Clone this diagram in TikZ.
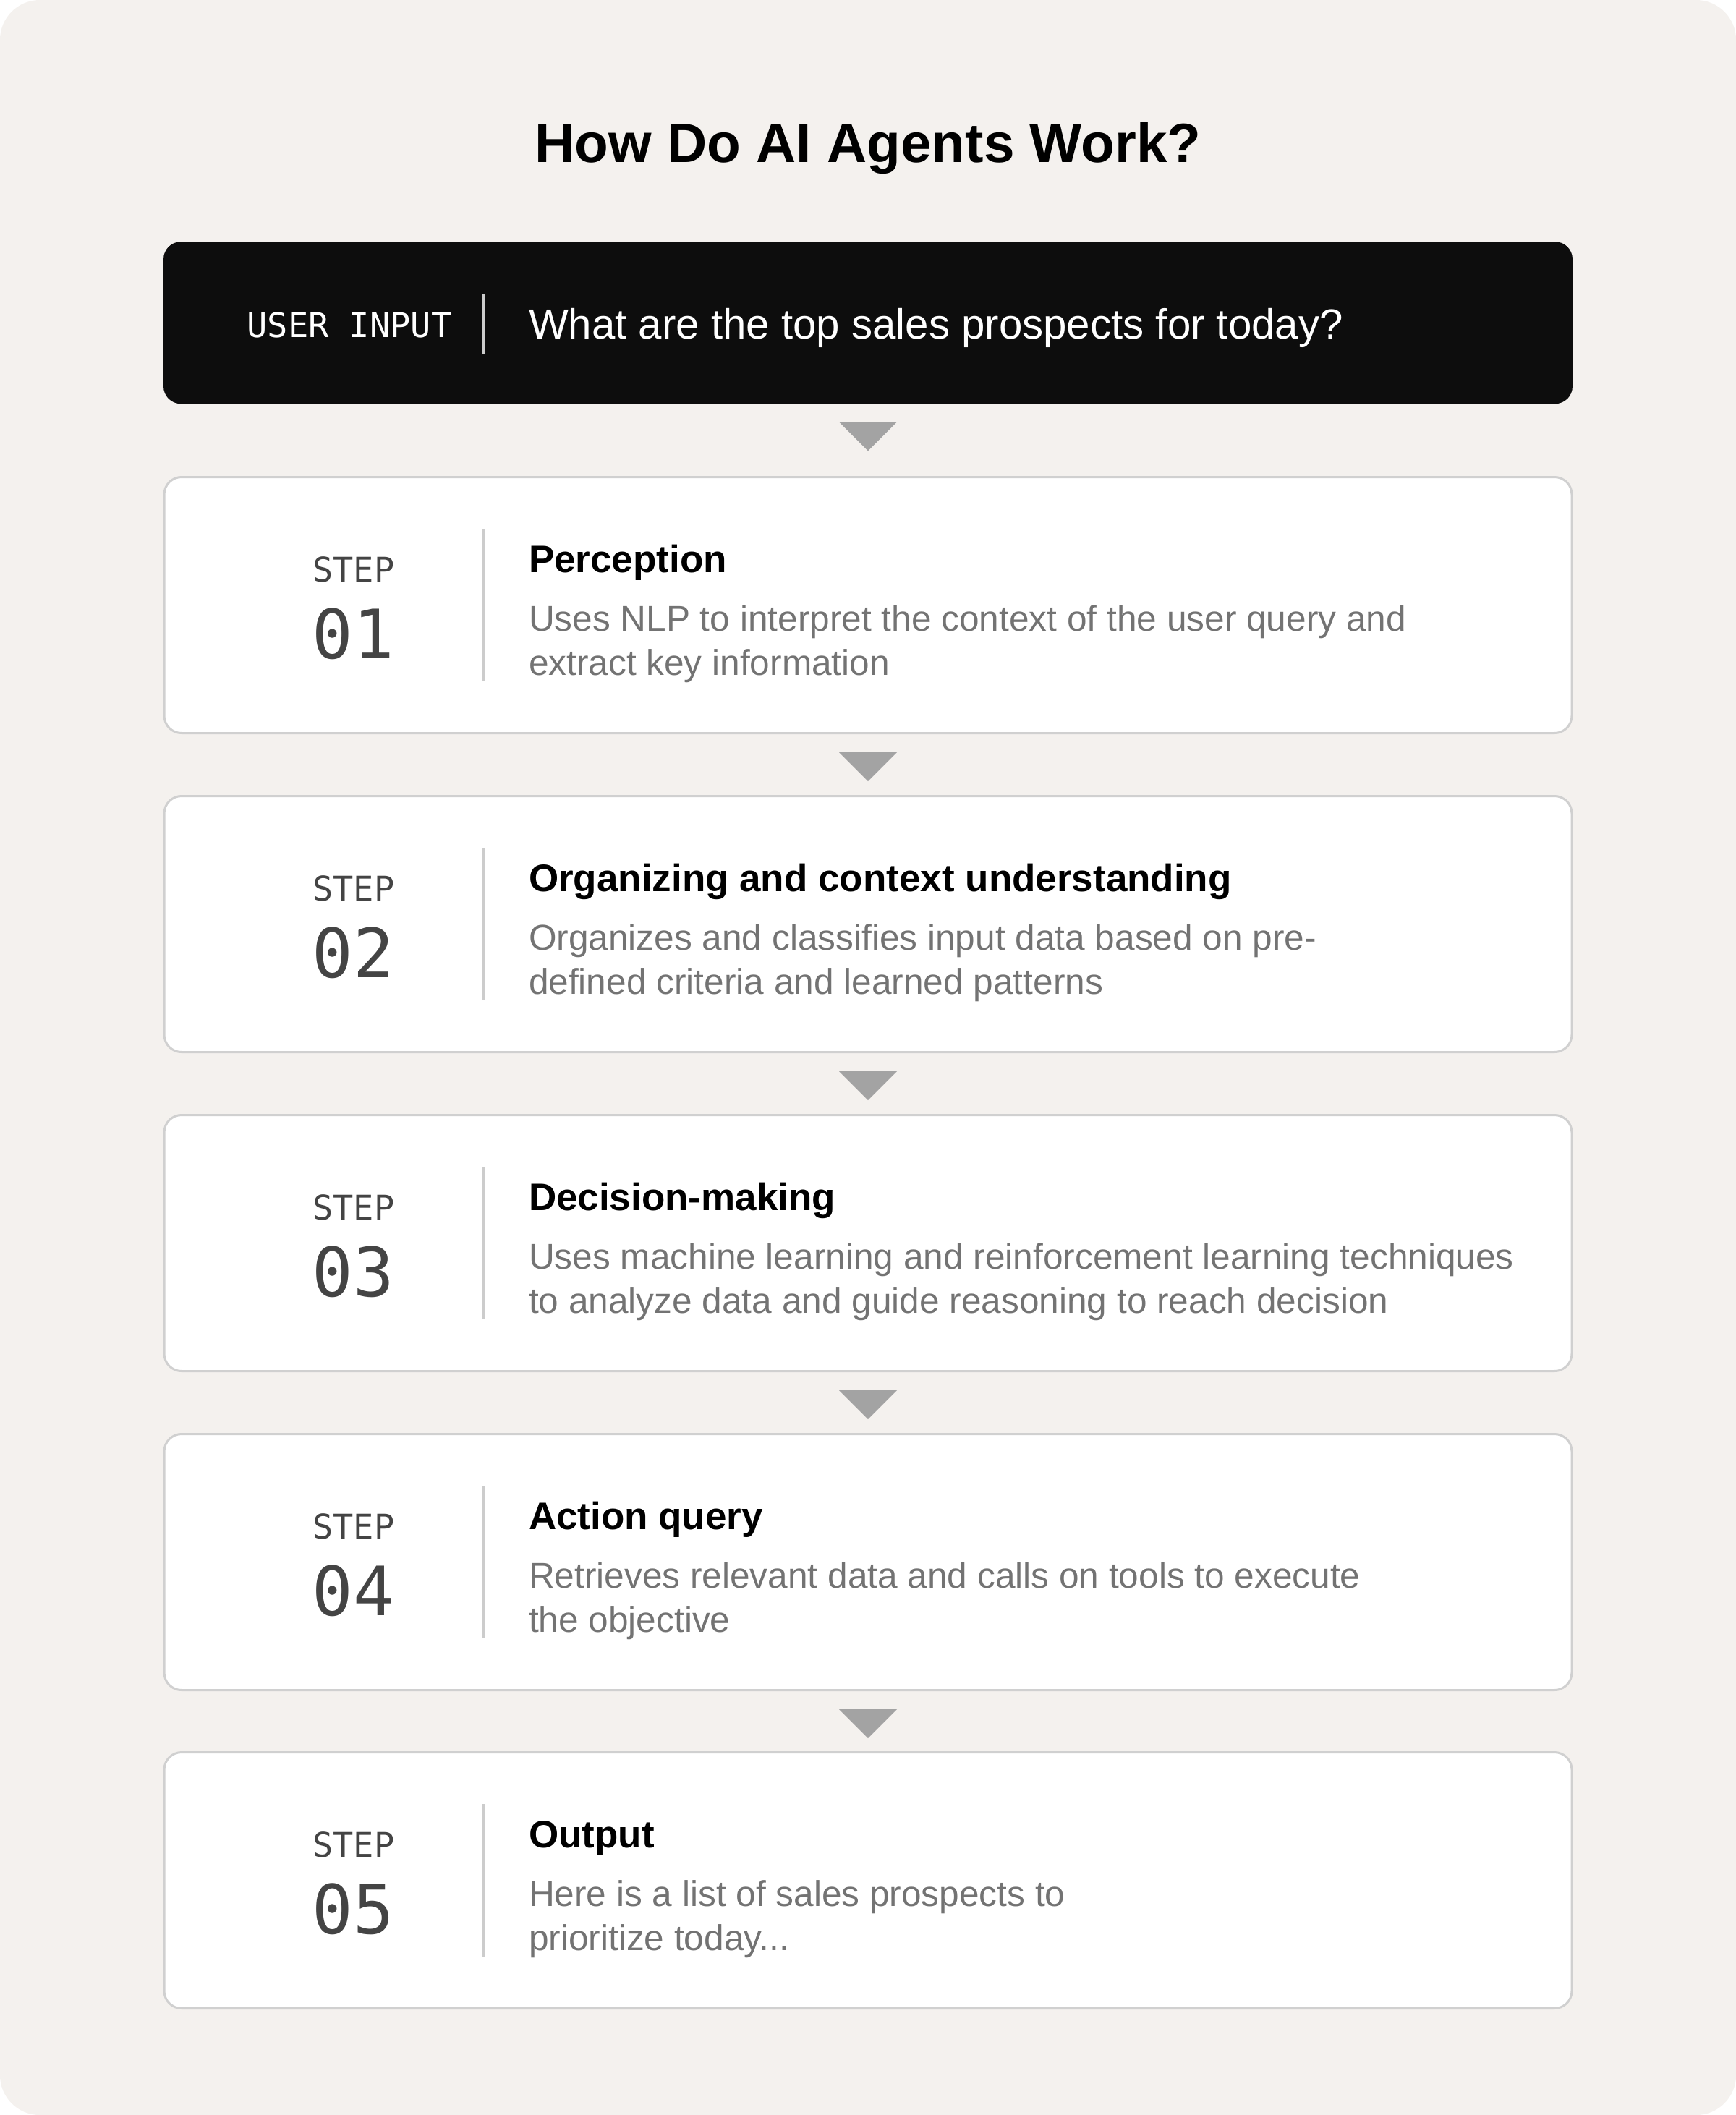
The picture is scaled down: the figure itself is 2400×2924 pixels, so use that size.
\documentclass[tikz,border=0pt]{standalone}
\usepackage{fontspec}
\setmainfont{Liberation Sans}
\newfontfamily\monof[RawFeature=+zero]{DejaVu Sans Mono}
\usetikzlibrary{calc}
\definecolor{bgc}{HTML}{F4F1EE}
\definecolor{boxline}{HTML}{D0D0D0}
\definecolor{divc}{HTML}{CCCCCC}
\definecolor{arrowc}{HTML}{A3A3A3}
\definecolor{descc}{HTML}{737373}
\definecolor{stepc}{HTML}{444444}
\definecolor{darkbox}{HTML}{0D0D0D}
\tikzset{
  txt/.style={inner sep=0pt, outer sep=0pt, anchor=base west},
  stepbox/.style={draw=boxline, line width=3pt, fill=white, rounded corners=24pt,
    minimum width=1946pt, minimum height=354pt, anchor=north, inner sep=0pt},
  userbox/.style={fill=darkbox, rounded corners=24pt,
    minimum width=1948pt, minimum height=224pt, anchor=north, inner sep=0pt},
  titlefont/.style={font=\fontsize{76.5}{90}\selectfont\bfseries},
  headfont/.style={font=\fontsize{53}{62}\selectfont\bfseries, text=black},
  descfont/.style={font=\fontsize{49.6}{61}\selectfont, text=descc},
  steplab/.style={font=\monof\fontsize{47}{56}\selectfont, text=stepc, inner sep=0pt, anchor=base},
  stepnum/.style={font=\monof\fontsize{94}{110}\selectfont, text=stepc, inner sep=0pt, anchor=base},
  divline/.style={draw=divc, line width=3pt},
  tri/.style={fill=arrowc}
}
\begin{document}
\begin{tikzpicture}[x=1pt,y=-1pt]
\useasboundingbox (0,0) rectangle (2400,2924);
\fill[bgc, rounded corners=55pt] (0,0) rectangle (2400,2924);
\node[titlefont, inner sep=0pt, anchor=base] (title) at (1200,224) {How Do AI Agents Work?};
% user input
\node[userbox] (user) at (1200,334) {};
\node[font=\monof\fontsize{47}{56}\selectfont, text=white, inner sep=0pt, anchor=base] (ulab) at (483,466) {USER INPUT};
\draw[divline] (668,407) -- (668,489);
\node[txt, font=\fontsize{58.2}{68}\selectfont, text=white] (uq) at (731,468) {What are the top sales prospects for today?};
% steps
\foreach \i/\t/\num/\ttl/\da/\db in {
  1/658/01/Perception/{Uses NLP to interpret the context of the user query and}/{extract key information},
  2/1099/02/Organizing and context understanding/{Organizes and classifies input data based on pre-}/{defined criteria and learned patterns},
  3/1540/03/Decision-making/{Uses machine learning and reinforcement learning techniques}/{to analyze data and guide reasoning to reach decision},
  4/1981/04/Action query/{Retrieves relevant data and calls on tools to execute}/{the objective},
  5/2421/05/Output/{Here is a list of sales prospects to}/{prioritize today...}}{
  \node[stepbox] (box\i) at (1200,\t) {};
  \node[steplab] (lab\i) at (489,\t+146) {STEP};
  \node[stepnum] (num\i) at (488,\t+252) {\num};
  \draw[divline] (668,\t+73) -- (668,\t+284);
  \node[txt, headfont] (head\i) at (731,\t+133) {\ttl};
  \node[txt, descfont] (da\i) at (731,\t+214) {\da};
  \node[txt, descfont] (db\i) at (731,\t+275) {\db};
}
% arrows between boxes
\fill[tri] ($(user.south)+(-40,25)$) -- ($(user.south)+(40,25)$) -- ($(user.south)+(0,65)$) -- cycle;
\foreach \i in {1,2,3,4}{
  \fill[tri] ($(box\i.south)+(-40,25)$) -- ($(box\i.south)+(40,25)$) -- ($(box\i.south)+(0,65)$) -- cycle;
}
\end{tikzpicture}
\end{document}
